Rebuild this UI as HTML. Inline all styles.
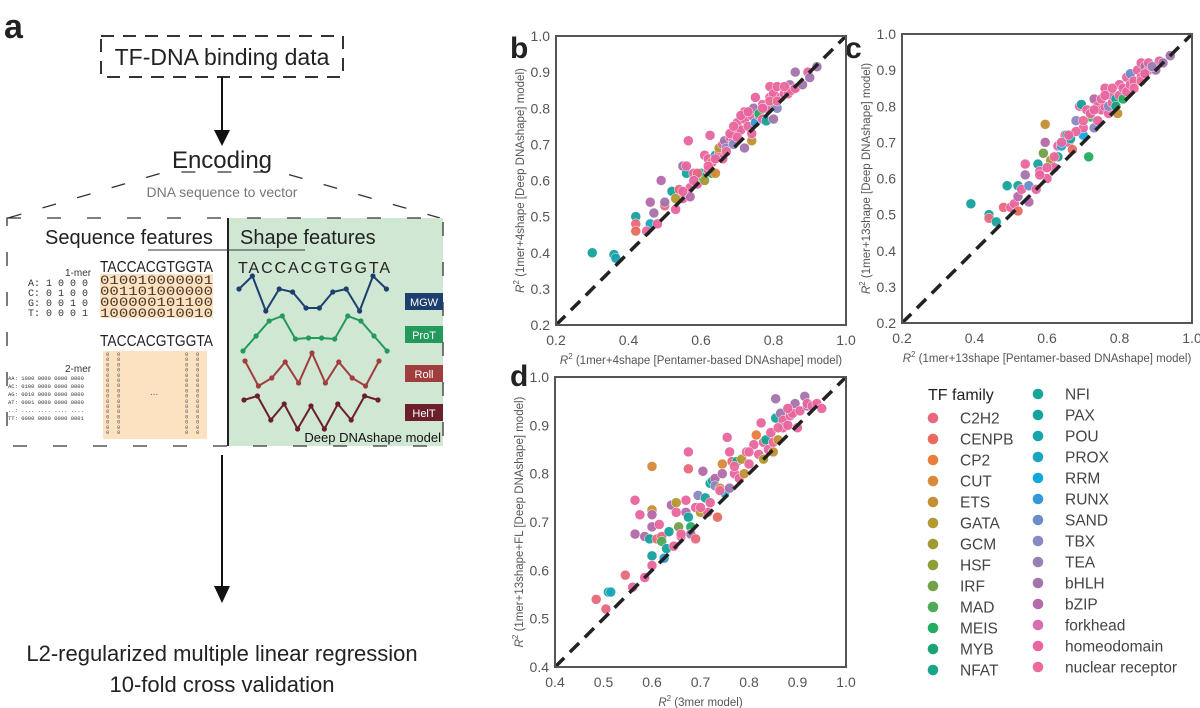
<!DOCTYPE html>
<html><head><meta charset="utf-8"><style>
body{margin:0;background:#fff;}
svg{display:block;font-family:"Liberation Sans",sans-serif;}
</style></head><body>
<svg id="fig" width="1200" height="708" viewBox="0 0 1200 708">
<g>
<text x="4" y="38" font-size="34" font-weight="bold" fill="#222">a</text>
<rect x="101" y="36" width="242" height="41" fill="none" stroke="#333" stroke-width="2" stroke-dasharray="13,9"/>
<text x="222" y="65" font-size="23" text-anchor="middle" fill="#222">TF-DNA binding data</text>
<line x1="222" y1="77" x2="222" y2="135" stroke="#111" stroke-width="2"/>
<polygon points="214,130 230,130 222,146" fill="#111"/>
<text x="222" y="168" font-size="24" text-anchor="middle" fill="#222">Encoding</text>
<text x="222" y="197" font-size="14" text-anchor="middle" fill="#777">DNA sequence to vector</text>
<polyline points="8,218 165,172 280,172 440,218" fill="none" stroke="#333" stroke-width="1.3" stroke-dasharray="14,22"/>
<rect x="228" y="218" width="215" height="228" fill="#d0e7d4"/>
<rect x="7" y="218" width="436" height="228" fill="none" stroke="#333" stroke-width="1.3" stroke-dasharray="14,26"/>
<line x1="228" y1="218" x2="228" y2="446" stroke="#222" stroke-width="2"/>
<text x="45" y="244" font-size="20" fill="#222">Sequence features</text>
<text x="240" y="244" font-size="20" fill="#222">Shape features</text>
<line x1="148" y1="250" x2="305" y2="250" stroke="#333" stroke-width="1"/>
<text x="65" y="276" font-size="10" fill="#333">1-mer</text>
<text x="100" y="272" font-size="16" fill="#222" textLength="113" lengthAdjust="spacingAndGlyphs">TACCACGTGGTA</text>
<rect x="100" y="274" width="113" height="44" fill="#fde2c2"/>
<g font-family="Liberation Mono" fill="#4a3a2a" font-size="13">
<text x="100" y="284" textLength="113" lengthAdjust="spacingAndGlyphs">010010000001</text>
<text x="100" y="295" textLength="113" lengthAdjust="spacingAndGlyphs">001101000000</text>
<text x="100" y="306" textLength="113" lengthAdjust="spacingAndGlyphs">000000101100</text>
<text x="100" y="317" textLength="113" lengthAdjust="spacingAndGlyphs">100000010010</text>
</g>
<g font-family="Liberation Mono" fill="#333" font-size="10">
<text x="28" y="286">A: 1 0 0 0</text><text x="28" y="296">C: 0 1 0 0</text>
<text x="28" y="306">G: 0 0 1 0</text><text x="28" y="316">T: 0 0 0 1</text>
</g>
<text x="100" y="346" font-size="16" fill="#222" textLength="113" lengthAdjust="spacingAndGlyphs">TACCACGTGGTA</text>
<rect x="103" y="351" width="104" height="88" fill="#fde2c2"/>
<g id="twomer" font-family="Liberation Mono" font-size="5.5" fill="#555"></g>
<text x="65" y="372" font-size="10" fill="#333">2-mer</text>
<text x="150" y="395" font-size="10" fill="#666">...</text>
<g font-family="Liberation Mono" fill="#333" font-size="5.5">
<text x="8" y="380">AA: 1000 0000 0000 0000</text><text x="8" y="388">AC: 0100 0000 0000 0000</text>
<text x="8" y="396">AG: 0010 0000 0000 0000</text><text x="8" y="404">AT: 0001 0000 0000 0000</text>
<text x="8" y="412">..: .... .... .... ....</text><text x="8" y="420">TT: 0000 0000 0000 0001</text>
</g>
<text x="238" y="273" font-size="16" fill="#222" textLength="152" lengthAdjust="spacing">TACCACGTGGTA</text>
<polyline id="mgw" fill="none" stroke="#1c3f6e" stroke-width="2"/>
<polyline id="prot" fill="none" stroke="#239a5c" stroke-width="2"/>
<polyline id="roll" fill="none" stroke="#a03d3d" stroke-width="2"/>
<polyline id="helt" fill="none" stroke="#6b1f2b" stroke-width="2"/>
<g id="shapeDots"></g>
<rect x="405" y="293" width="38" height="17" fill="#1c3f6e"/><text x="424" y="306" font-size="11" fill="#fff" text-anchor="middle">MGW</text>
<rect x="405" y="326" width="38" height="17" fill="#239a5c"/><text x="424" y="339" font-size="11" fill="#fff" text-anchor="middle">ProT</text>
<rect x="405" y="365" width="38" height="17" fill="#a03d3d"/><text x="424" y="378" font-size="11" fill="#fff" text-anchor="middle">Roll</text>
<rect x="405" y="404" width="38" height="17" fill="#6b1f2b"/><text x="424" y="417" font-size="11" fill="#fff" text-anchor="middle">HelT</text>
<text x="441" y="442" font-size="13" text-anchor="end" fill="#111">Deep DNAshape model</text>
<line x1="222" y1="455" x2="222" y2="590" stroke="#111" stroke-width="2"/>
<polygon points="214,586 230,586 222,603" fill="#111"/>
<text x="222" y="661" font-size="22" text-anchor="middle" fill="#222">L2-regularized multiple linear regression</text>
<text x="222" y="692" font-size="22" text-anchor="middle" fill="#222">10-fold cross validation</text>
</g>
<text x="510" y="58" font-size="30" font-weight="bold" fill="#222">b</text>
<text x="845" y="58" font-size="30" font-weight="bold" fill="#222">c</text>
<text x="510" y="386" font-size="30" font-weight="bold" fill="#222">d</text>
<g id="charts"></g>
<g id="legend"></g>
</svg>
<script>
const NS="http://www.w3.org/2000/svg";
const shapeMGW=[289,276,311,289,292,308,308,292,289,311,276,289];
const shapeProT=[351,336,321,316,339,338,338,339,316,321,336,351];
const shapeRoll=[361,386,378,362,383,353,383,362,378,386,361];
const shapeHelT=[400,396,420,404,429,406,429,404,420,396,400];
function drawShape(id,vals,x0,step,col){
  const pts=vals.map((v,i)=>[x0+i*step,v]);
  document.getElementById(id).setAttribute('points',pts.map(p=>p.join(',')).join(' '));
  const g=document.getElementById('shapeDots');
  pts.forEach(p=>{const c=document.createElementNS(NS,'circle');c.setAttribute('cx',p[0]);c.setAttribute('cy',p[1]);c.setAttribute('r',2.6);c.setAttribute('fill',col);g.appendChild(c);});
}
drawShape('mgw',shapeMGW,239,13.4,'#1c3f6e');
drawShape('prot',shapeProT,243,13.1,'#239a5c');
drawShape('roll',shapeRoll,245,13.4,'#a03d3d');
drawShape('helt',shapeHelT,244,13.4,'#6b1f2b');
// 2-mer vertical digit columns
(function(){const g=document.getElementById('twomer');
 [106,117,185,196].forEach(x=>{for(let y=356;y<438;y+=5.2){const t=document.createElementNS(NS,'text');t.setAttribute('x',x);t.setAttribute('y',y);t.textContent='0';g.appendChild(t);}});})();

const families=["C2H2","CENPB","CP2","CUT","ETS","GATA","GCM","HSF","IRF","MAD","MEIS","MYB","NFAT","NFI","PAX","POU","PROX","RRM","RUNX","SAND","TBX","TEA","bHLH","bZIP","forkhead","homeodomain","nuclear receptor"];
const famColors=["#e8697d","#e86b5e","#ea7c3c","#d88a38","#c38f35","#b39a30","#a09a35","#8f9d38","#72a14a","#4fab5a","#22ad60","#1aa475","#16a48a","#17a597","#17a29e","#19a3ad","#1aa6bd","#0ea8dd","#3597d6","#6c8dc9","#8b88c5","#9a7fb6","#a474ac","#b56aa9","#d86db0","#e8659f","#ec6a9b"];
const F=n=>families.indexOf(n);
const hd="homeodomain",nr="nuclear receptor";
const bX=[0.30,0.36,0.365,0.42,0.42,0.42,0.46,0.45,0.46,0.47,0.48,0.49,0.50,0.50,0.52,0.53,0.54,0.55,0.55,0.56,0.56,0.565,0.57,0.57,0.58,0.59,0.60,0.60,0.61,0.61,0.62,0.62,0.625,0.63,0.64,0.64,0.65,0.65,0.66,0.665,0.67,0.68,0.69,0.69,0.70,0.70,0.71,0.72,0.72,0.72,0.73,0.74,0.74,0.74,0.745,0.75,0.75,0.76,0.76,0.77,0.77,0.78,0.78,0.79,0.79,0.80,0.80,0.80,0.81,0.81,0.82,0.83,0.84,0.845,0.85,0.86,0.86,0.88,0.895,0.90,0.92,0.68,0.70,0.66,0.71,0.73,0.77,0.79,0.81,0.83,0.63,0.59,0.64,0.67,0.69,0.53,0.55,0.58,0.62];
const bY=[0.40,0.395,0.385,0.50,0.48,0.46,0.48,0.46,0.54,0.51,0.48,0.60,0.53,0.54,0.57,0.52,0.575,0.55,0.64,0.62,0.64,0.71,0.58,0.555,0.62,0.59,0.62,0.61,0.60,0.67,0.63,0.66,0.725,0.62,0.62,0.67,0.68,0.69,0.70,0.71,0.69,0.72,0.71,0.70,0.74,0.76,0.74,0.69,0.79,0.77,0.75,0.78,0.71,0.73,0.80,0.83,0.76,0.78,0.785,0.77,0.81,0.765,0.80,0.83,0.86,0.84,0.815,0.77,0.80,0.86,0.83,0.84,0.84,0.865,0.85,0.855,0.90,0.865,0.90,0.885,0.915,0.73,0.72,0.66,0.78,0.79,0.80,0.82,0.82,0.86,0.65,0.62,0.66,0.68,0.75,0.55,0.57,0.60,0.64];
const bFam=["PAX","PAX","POU","PAX","C2H2","CENPB","PROX",hd,"bZIP","bHLH",hd,"bZIP","C2H2","bHLH","PAX",hd,"C2H2",hd,"bHLH","PAX",hd,hd,hd,"bZIP",hd,hd,"PAX","MYB","GCM",hd,hd,hd,hd,"MEIS","CUT","NFI",hd,"GATA",hd,"bHLH","TBX",hd,hd,"TBX",hd,hd,hd,"bHLH",hd,hd,hd,hd,"ETS",hd,"bHLH",hd,"RUNX",hd,"MEIS",hd,hd,"NFI",hd,hd,hd,hd,"NFI","bHLH","TBX",hd,hd,hd,hd,"bHLH",hd,hd,"bHLH","bHLH",hd,"bHLH","bHLH",hd,hd,hd,hd,hd,hd,nr,nr,nr,"C2H2","C2H2",hd,nr,nr,"GATA",hd,hd,nr];
const cX=[0.39,0.44,0.44,0.46,0.48,0.49,0.50,0.51,0.52,0.52,0.52,0.53,0.54,0.54,0.55,0.55,0.57,0.575,0.58,0.59,0.595,0.595,0.60,0.61,0.62,0.63,0.63,0.64,0.65,0.655,0.66,0.665,0.67,0.68,0.69,0.695,0.70,0.70,0.71,0.715,0.72,0.72,0.73,0.73,0.74,0.74,0.75,0.76,0.76,0.77,0.77,0.78,0.78,0.79,0.79,0.795,0.80,0.80,0.81,0.81,0.82,0.82,0.83,0.83,0.84,0.85,0.86,0.86,0.87,0.88,0.88,0.90,0.91,0.92,0.94,0.75,0.73,0.70,0.68,0.66,0.64,0.62,0.60,0.58,0.84,0.86,0.78,0.76,0.87,0.89];
const cY=[0.53,0.50,0.49,0.48,0.52,0.58,0.52,0.53,0.58,0.51,0.55,0.57,0.64,0.61,0.58,0.535,0.57,0.64,0.62,0.67,0.75,0.70,0.60,0.65,0.63,0.66,0.69,0.69,0.72,0.72,0.70,0.71,0.68,0.76,0.80,0.805,0.72,0.74,0.79,0.66,0.77,0.78,0.74,0.82,0.76,0.80,0.79,0.80,0.85,0.78,0.80,0.81,0.83,0.82,0.80,0.78,0.83,0.86,0.82,0.85,0.84,0.88,0.89,0.86,0.87,0.90,0.88,0.92,0.91,0.90,0.92,0.90,0.925,0.92,0.94,0.82,0.79,0.76,0.73,0.72,0.70,0.66,0.63,0.61,0.85,0.87,0.85,0.83,0.89,0.91];
const cFam=["PAX","PAX","C2H2","PAX","C2H2","PAX",hd,hd,"PAX","CENPB","bZIP",hd,hd,"bHLH","SAND","bZIP",hd,"PAX",hd,"IRF","ETS","bZIP",hd,"GCM",hd,"NFI",hd,"RRM",hd,"MYB",hd,"PAX","CENPB","TBX",hd,"PAX","RRM",hd,hd,"MEIS","MAD",hd,"TBX","bZIP",hd,hd,hd,hd,hd,hd,"TBX",hd,hd,"PAX","MYB","ETS",hd,hd,"MEIS",hd,hd,hd,"SAND",hd,hd,hd,hd,hd,"bHLH",hd,hd,"bHLH",hd,"bHLH","bHLH",hd,hd,nr,hd,hd,hd,nr,hd,hd,nr,nr,nr,hd,hd,"TEA"];
const dX=[0.485,0.505,0.51,0.515,0.545,0.56,0.565,0.565,0.575,0.585,0.585,0.595,0.60,0.60,0.60,0.60,0.60,0.60,0.61,0.615,0.62,0.62,0.625,0.63,0.635,0.64,0.645,0.65,0.65,0.655,0.66,0.67,0.67,0.675,0.675,0.675,0.68,0.68,0.69,0.69,0.695,0.70,0.705,0.71,0.715,0.72,0.72,0.725,0.73,0.73,0.735,0.74,0.745,0.745,0.75,0.755,0.76,0.76,0.765,0.77,0.775,0.78,0.785,0.79,0.795,0.80,0.81,0.815,0.82,0.825,0.83,0.83,0.835,0.84,0.845,0.85,0.85,0.855,0.855,0.86,0.865,0.87,0.87,0.88,0.885,0.89,0.895,0.90,0.905,0.915,0.92,0.92,0.93,0.94,0.95,0.88,0.86,0.80,0.77,0.74,0.70,0.66];
const dY=[0.54,0.52,0.555,0.555,0.59,0.565,0.675,0.745,0.715,0.585,0.67,0.665,0.63,0.61,0.815,0.725,0.715,0.69,0.665,0.695,0.67,0.66,0.625,0.645,0.68,0.735,0.65,0.72,0.74,0.69,0.67,0.72,0.745,0.845,0.81,0.71,0.69,0.675,0.73,0.665,0.755,0.72,0.805,0.75,0.72,0.74,0.78,0.785,0.79,0.775,0.71,0.77,0.80,0.82,0.76,0.875,0.77,0.845,0.825,0.80,0.825,0.79,0.83,0.80,0.845,0.82,0.86,0.88,0.84,0.905,0.865,0.83,0.87,0.85,0.885,0.845,0.865,0.955,0.915,0.87,0.925,0.91,0.895,0.90,0.92,0.925,0.945,0.895,0.93,0.96,0.94,0.945,0.94,0.945,0.935,0.935,0.895,0.845,0.815,0.765,0.73,0.675];
const dFam=["C2H2","C2H2","POU","PROX","C2H2",hd,"bZIP",hd,hd,hd,"bZIP","PAX","PAX",hd,"CUT","ETS","bZIP","bZIP","C2H2",hd,"C2H2","MAD","RUNX","PAX","PAX","bZIP",hd,hd,"GATA","IRF",hd,"bZIP",hd,hd,"C2H2","PAX","MEIS","bHLH",hd,"C2H2","TBX","GATA","bZIP","NFI",hd,hd,"PAX","NFI","bZIP","TBX","CENPB","ETS","bZIP","CUT","RRM",hd,"bHLH",hd,"C2H2",hd,"NFAT",hd,"GATA","ETS",hd,hd,hd,"CP2",hd,hd,hd,"GATA","NFAT",hd,hd,"ETS",hd,"bHLH","PAX","ETS","bHLH",hd,hd,hd,hd,hd,"bHLH",hd,hd,"bHLH","bHLH",hd,hd,hd,hd,hd,nr,nr,nr,nr,nr,nr];
const xTicksB=["0.2","0.4","0.6","0.8","1.0"];
const yTicksB=["0.2","0.3","0.4","0.5","0.6","0.7","0.8","0.9","1.0"];
const xTicksD=["0.4","0.5","0.6","0.7","0.8","0.9","1.0"];
const yTicksD=["0.4","0.5","0.6","0.7","0.8","0.9","1.0"];

function el(tag,attrs,parent){const e=document.createElementNS(NS,tag);for(const k in attrs)e.setAttribute(k,attrs[k]);parent.appendChild(e);return e;}
function chart(name,L,T,W,H,lo,hi,xs,ys,fams,xt,yt,xlab,ylab){
  const g=el('g',{},document.getElementById('charts'));
  
  
  const sx=v=>L+(v-lo)/(hi-lo)*W, sy=v=>T+H-(v-lo)/(hi-lo)*H;
  for(let i=0;i<xs.length;i++){
    const c=el('circle',{cx:sx(xs[i]),cy:sy(ys[i]),r:5,fill:famColors[F(fams[i])],stroke:'#fff','stroke-width':0.5,opacity:0.95},g);
    
    
  }
  const d=el('line',{x1:sx(lo),y1:sy(lo),x2:sx(hi),y2:sy(hi),stroke:'#222','stroke-width':3.5,'stroke-dasharray':'13,8'},g);
  
  
  el('rect',{x:L,y:T,width:W,height:H,fill:'none',stroke:'#555','stroke-width':2},g);
  xt.forEach(t=>{const e=el('text',{x:sx(+t),y:T+H+20,'font-size':14,fill:'#555','text-anchor':'middle'},g);e.textContent=t;
    });
  yt.forEach(t=>{const e=el('text',{x:L-6,y:sy(+t)+5,'font-size':14,fill:'#555','text-anchor':'end'},g);e.textContent=t;
    });
  const xl=el('text',{x:L+W/2,y:T+H+39,'font-size':11.5,fill:'#555','text-anchor':'middle'},g);
  xl.innerHTML='<tspan font-style="italic">R</tspan><tspan font-size="8" dy="-5">2</tspan><tspan dy="5"> '+xlab+'</tspan>';
  
  const yl=el('text',{x:0,y:0,'font-size':11.5,fill:'#555','text-anchor':'middle',transform:`translate(${L-32},${T+H/2}) rotate(-90)`},g);
  yl.innerHTML='<tspan font-style="italic">R</tspan><tspan font-size="8" dy="-5">2</tspan><tspan dy="5"> '+ylab+'</tspan>';
  
}
chart('panel-b-scatter',556,36,290,289,0.2,1.0,bX,bY,bFam,xTicksB,yTicksB,'(1mer+4shape [Pentamer-based DNAshape] model)','(1mer+4shape [Deep DNAshape] model)');
chart('panel-c-scatter',902,34,290,289,0.2,1.0,cX,cY,cFam,xTicksB,yTicksB,'(1mer+13shape [Pentamer-based DNAshape] model)','(1mer+13shape [Deep DNAshape] model)');
chart('panel-d-scatter',555,377,291,290,0.4,1.0,dX,dY,dFam,xTicksD,yTicksD,'(3mer model)','(1mer+13shape+FL [Deep DNAshape] model)');

const lg=document.getElementById('legend');
const tt=el('text',{x:928,y:400,'font-size':16,fill:'#222'},lg);tt.textContent='TF family';

families.forEach((f,i)=>{
  const col=i<13?0:1, row=i<13?i:i-13;
  const mx=col?1038:933, my=col?394+row*21:418+row*21;
  const g=el('g',{},lg);
  
  
  el('circle',{cx:mx,cy:my,r:5.3,fill:famColors[i]},g);
  const t=el('text',{x:mx+27,y:my+5.5,'font-size':15.5,fill:'#444'},g);t.textContent=f;
});
</script>
</body></html>
